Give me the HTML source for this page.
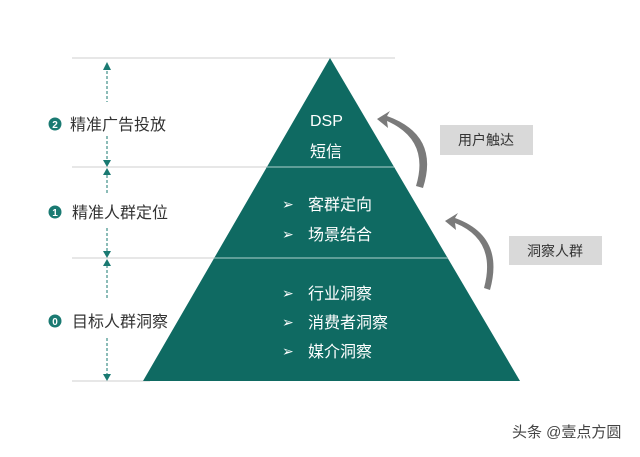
<!DOCTYPE html>
<html><head><meta charset="utf-8"><style>
body{margin:0;background:#fff;}
svg text{font-family:"Liberation Sans","Noto Sans CJK SC",sans-serif;}
</style></head><body>
<svg width="640" height="452" viewBox="0 0 640 452" xmlns="http://www.w3.org/2000/svg">
<rect width="640" height="452" fill="#fff"/>
<g stroke="#cfcfcf" stroke-width="1">
<line x1="72" y1="58" x2="395" y2="58"/>
<line x1="72" y1="167" x2="300" y2="167"/>
<line x1="72" y1="258" x2="240" y2="258"/>
<line x1="72" y1="381" x2="150" y2="381"/>
</g>
<polygon points="330,58 143,381 520,381" fill="#0f6a62"/>
<line x1="267" y1="167" x2="394" y2="167" stroke="#8fbdb8" stroke-width="1.2"/>
<line x1="214" y1="258" x2="448" y2="258" stroke="#8fbdb8" stroke-width="1.2"/>
<g stroke="#1a7a72" stroke-width="1" stroke-dasharray="3,2" fill="none">
<line x1="107" y1="66" x2="107" y2="102"/><line x1="107" y1="136" x2="107" y2="160"/>
<line x1="107" y1="175" x2="107" y2="195"/><line x1="107" y1="228" x2="107" y2="252"/>
<line x1="107" y1="265" x2="107" y2="300"/><line x1="107" y1="338" x2="107" y2="375"/>
</g>
<g fill="#1a7a72">
<path d="M103,70 L107,62 L111,70Z"/><path d="M103,160 L107,167 L111,160Z"/>
<path d="M103,175 L107,168 L111,175Z"/><path d="M103,251 L107,258 L111,251Z"/>
<path d="M103,266 L107,259 L111,266Z"/><path d="M103,374 L107,381 L111,374Z"/>
</g>
<g fill="#1a7a72"><circle cx="55" cy="124" r="6.5"/><circle cx="55" cy="212" r="6.5"/><circle cx="55" cy="321" r="6.5"/></g>
<g fill="#fff" font-size="10" font-weight="bold" text-anchor="middle"><text x="55" y="128">2</text><text x="55" y="216">1</text><text x="55" y="325">0</text></g>
<g fill="#333" font-size="16"><text x="70" y="130">精准广告投放</text><text x="72" y="218">精准人群定位</text><text x="72" y="327">目标人群洞察</text></g>
<g fill="#fff" font-size="16">
<text x="310" y="126">DSP</text><text x="310" y="157">短信</text>
<text x="308" y="210">客群定向</text><text x="308" y="240">场景结合</text>
<text x="308" y="299">行业洞察</text><text x="308" y="328">消费者洞察</text><text x="308" y="357">媒介洞察</text>
</g>
<g fill="#fff" font-size="14">
<text x="282" y="209">➢</text><text x="282" y="239">➢</text>
<text x="282" y="298">➢</text><text x="282" y="327">➢</text><text x="282" y="356">➢</text>
</g>
<g fill="#7a7a7a">
<path d="M423,188 Q440,135 387,116 L390,111 L377,119 L388,128 L387,121 Q430,140 416,186Z"/>
<path d="M490,290 Q505,236 455,218 L458,213 L445,221 L456,230 L455,223 Q497,240 484,288Z"/>
</g>
<rect x="440" y="125" width="93" height="30" fill="#d9d9d9"/>
<rect x="509" y="236" width="93" height="29" fill="#d9d9d9"/>
<g fill="#333" font-size="14" text-anchor="middle"><text x="486" y="145">用户触达</text><text x="555" y="256">洞察人群</text></g>
<text x="512" y="437" font-size="15" fill="#444">头条 @壹点方圆</text>
</svg>
</body></html>
